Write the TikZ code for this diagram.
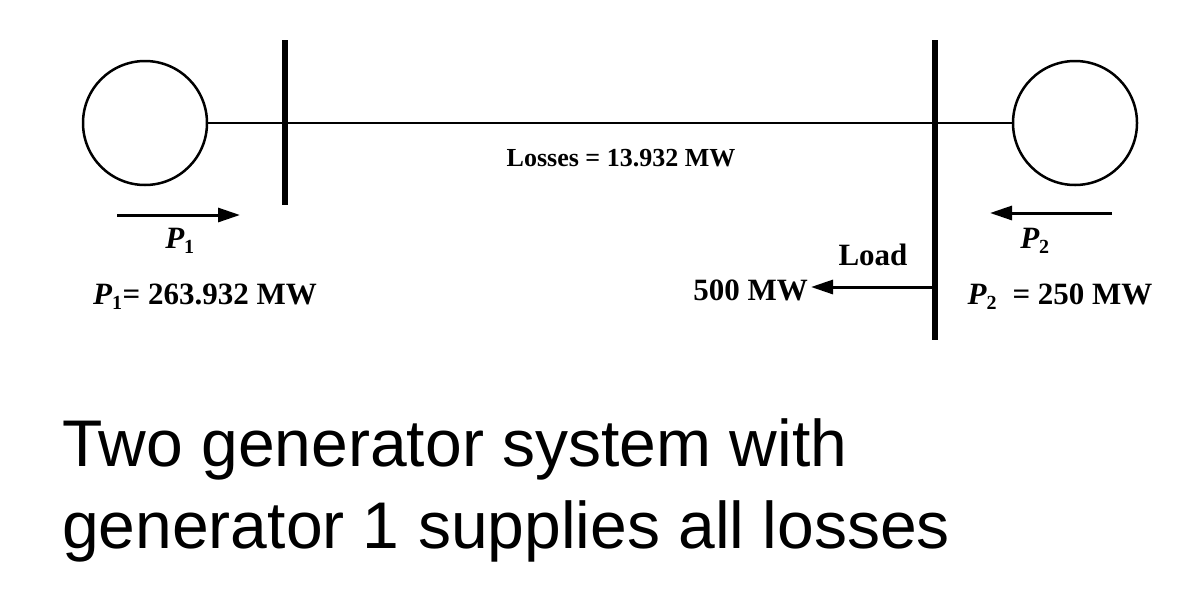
\documentclass[tikz,border=0pt]{standalone}
\usepackage{fontspec}
\setmainfont{Liberation Serif}
\newfontfamily\capfont{Liberation Sans}
\usetikzlibrary{arrows.meta}
\begin{document}
\begin{tikzpicture}[x=1pt,y=-1pt,
  wire/.style={line width=2.5pt},
  bus/.style={line width=6pt},
  flow/.style={line width=3pt,-{Triangle[length=22pt,width=14pt]}},
  lbl/.style={font=\fontsize{31}{34}\selectfont\bfseries,inner sep=0pt},
  sub/.style={}]
\newcommand\mysub[1]{\textsubscript{\upshape\fontsize{20}{20}\selectfont #1}}
\useasboundingbox (0,0) rectangle (1204,595);
\node[circle,draw,line width=2.5pt,minimum size=124pt,inner sep=0pt] (g1) at (145,123) {};
\node[circle,draw,line width=2.5pt,minimum size=124pt,inner sep=0pt] (g2) at (1075,123) {};
\draw[wire] (g1.east) -- (g2.west);
\coordinate (b1t) at (285,40); \coordinate (b1b) at (285,205);
\coordinate (b2t) at (935,40); \coordinate (b2b) at (935,340);
\draw[bus] (b1t) -- (b1b);
\draw[bus] (b2t) -- (b2b);
\node[lbl,font=\fontsize{26}{28}\selectfont\bfseries] (loss) at (621,158) {Losses = 13.932 MW};
\coordinate (p1s) at (117,215); \coordinate (p1e) at (240,215);
\draw[flow] (p1s) -- (p1e);
\node[lbl] (p1) at (180,241) {\itshape P\mysub{1}};
\node[lbl] (p1v) at (205,297) {\itshape P\mysub{1}\upshape= 263.932 MW};
\coordinate (p2s) at (1112,213); \coordinate (p2e) at (990,213);
\draw[flow] (p2s) -- (p2e);
\node[lbl] (p2) at (1035,241) {\itshape P\mysub{2}};
\node[lbl] (p2v) at (1060,297) {\itshape P\mysub{2}\upshape\ \ = 250 MW};
\coordinate (ls) at (935,287); \coordinate (le) at (811,287);
\draw[flow] (ls) -- (le);
\node[lbl,anchor=east] (lv) at (808,290) {500 MW};
\node[lbl] (load) at (873,255) {Load};
\node[font=\capfont\fontsize{66}{82}\selectfont,align=left,anchor=north west,inner sep=0pt] (cap) at (62,418)
  {Two generator system with\\generator 1 supplies all losses};
\end{tikzpicture}
\end{document}
